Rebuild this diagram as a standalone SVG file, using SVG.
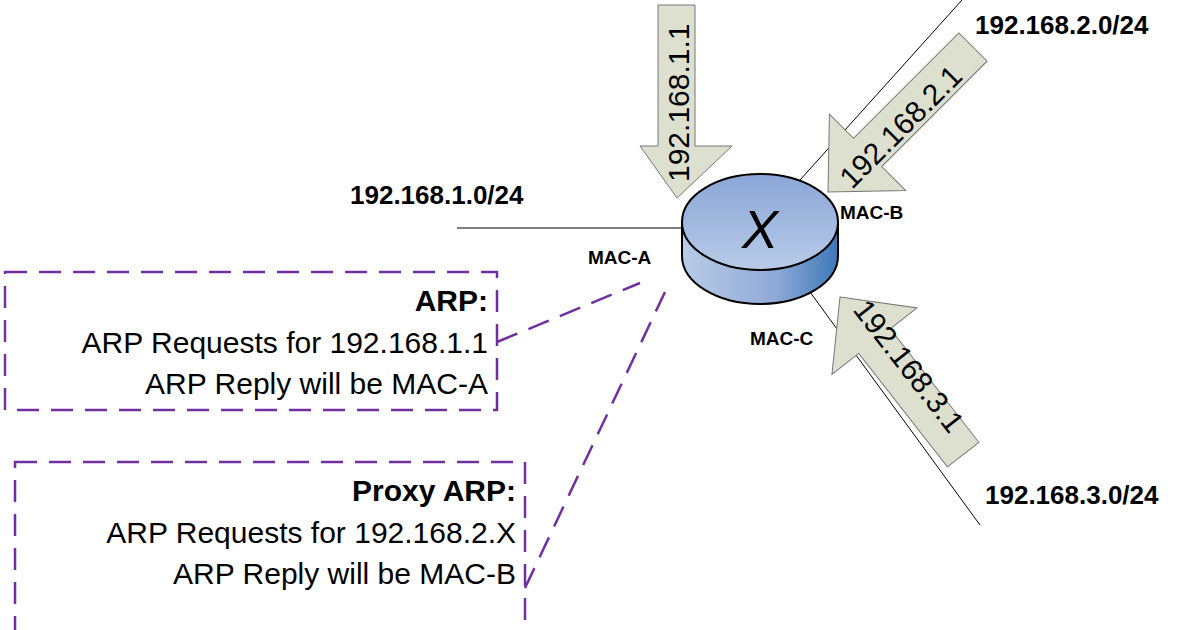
<svg xmlns="http://www.w3.org/2000/svg" width="1200" height="630" viewBox="0 0 1200 630">
<defs>
<style>
.t{font-family:"Liberation Sans",Arial,sans-serif;fill:#000}
.b{font-weight:bold}
.box{fill:none;stroke:#7030a0;stroke-width:2.5;stroke-dasharray:22 12}
.ln{stroke:#000;stroke-width:1;fill:none}
.arr{fill:#dde0cf;stroke:#777;stroke-width:1}
</style>
<linearGradient id="top" x1="0" y1="0" x2="0" y2="1"><stop offset="0" stop-color="#8aa6d6"/><stop offset="1" stop-color="#b9cbe8"/></linearGradient>
<linearGradient id="side" x1="0" y1="0" x2="1" y2="0"><stop offset="0" stop-color="#b9cbe8"/><stop offset="0.6" stop-color="#8faad6"/><stop offset="1" stop-color="#3d78b8"/></linearGradient>
</defs>
<rect width="1200" height="630" fill="#fff"/>
<g id="connectors">
<line class="ln" x1="457" y1="228" x2="684" y2="228"/>
<line class="ln" x1="800" y1="180" x2="962" y2="0"/>
<line class="ln" x1="810" y1="292" x2="980" y2="525"/>
<line class="box" x1="497" y1="342" x2="640" y2="283"/>
<line class="box" x1="525" y1="588" x2="665" y2="292"/>
</g>
<g id="arrow1"><polygon class="arr" points="658,5 695,5 695,146 732,146 677,198 640,146 658,146"/>
<text class="t" font-size="30" transform="translate(689,182) rotate(-90)">192.168.1.1</text></g>
<g id="arrow2"><polygon class="arr" transform="translate(828,192) rotate(-45)" points="0,0 56,-54 56,-20 205,-20 205,20 56,20 56,54"/>
<text class="t" font-size="30" transform="translate(852,190) rotate(-45)">192.168.2.1</text></g>
<g id="arrow3"><polygon class="arr" transform="translate(840,297) rotate(52)" points="0,0 56,-54 56,-20 200,-20 200,20 56,20 56,54"/>
<text class="t" font-size="30" transform="translate(852,310) rotate(52)">192.168.3.1</text></g>
<g id="router">
<path d="M682,222 L682,256 A78,48 0 0 0 838,256 L838,222 Z" fill="url(#side)" stroke="#000" stroke-width="2"/>
<ellipse cx="760" cy="222" rx="78" ry="48" fill="url(#top)" stroke="#000" stroke-width="2"/>
<text class="t" font-size="54" font-style="italic" x="760" y="248" text-anchor="middle">X</text>
</g>
<g id="labels">
<text class="t b" font-size="26" x="350" y="204">192.168.1.0/24</text>
<text class="t b" font-size="26" x="975" y="34">192.168.2.0/24</text>
<text class="t b" font-size="26" x="985" y="504">192.168.3.0/24</text>
<text class="t b" font-size="19" x="588" y="264">MAC-A</text>
<text class="t b" font-size="19" x="840" y="219">MAC-B</text>
<text class="t b" font-size="19" x="750" y="345">MAC-C</text>
</g>
<g id="arp">
<rect class="box" x="5" y="272" width="492" height="138"/>
<text class="t" font-size="30" text-anchor="end"><tspan class="b" x="488" y="311">ARP:</tspan><tspan x="488" y="353">ARP Requests for 192.168.1.1</tspan><tspan x="488" y="394">ARP Reply will be MAC-A</tspan></text>
</g>
<g id="proxyarp">
<rect class="box" x="15" y="462" width="510" height="190"/>
<text class="t" font-size="30" text-anchor="end"><tspan class="b" x="516" y="501">Proxy ARP:</tspan><tspan x="516" y="543">ARP Requests for 192.168.2.X</tspan><tspan x="516" y="584">ARP Reply will be MAC-B</tspan></text>
</g>
</svg>
